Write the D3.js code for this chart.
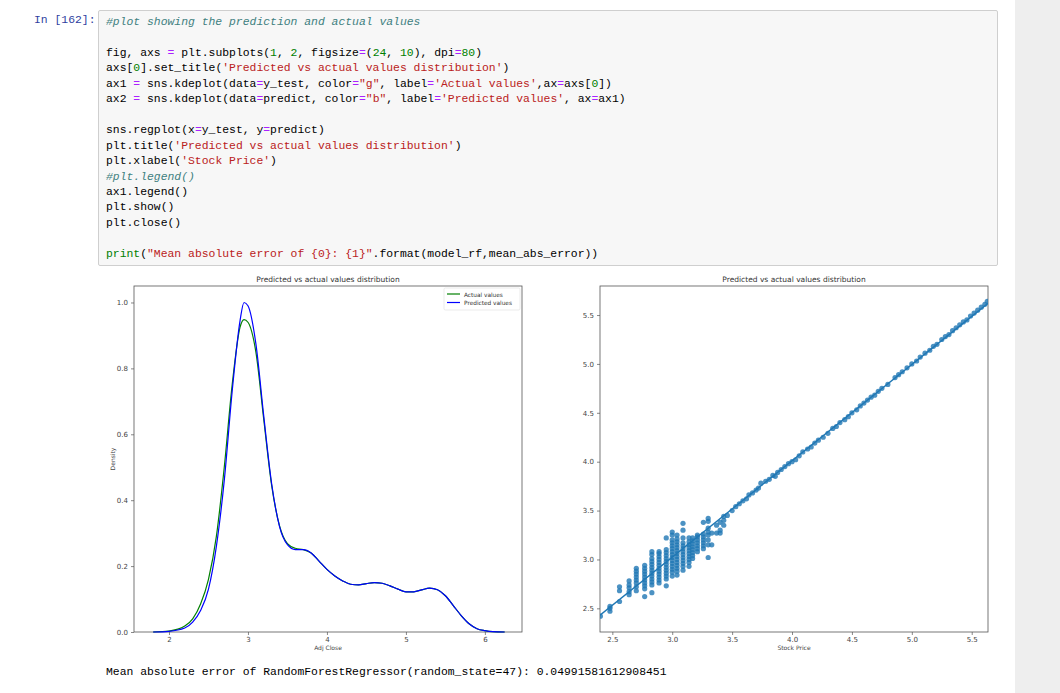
<!DOCTYPE html>
<html>
<head>
<meta charset="utf-8">
<script src="https://cdn.jsdelivr.net/npm/d3@7"></script>
<style>
  body { margin: 0; background: #fff; width: 1060px; height: 693px; overflow: hidden; position: relative; font-family: "DejaVu Sans", sans-serif; }
  #strip { position: absolute; left: 1015px; top: 0; width: 45px; height: 693px; background: #eeeeee; }
  #prompt { position: absolute; left: 34px; top: 14px; font: 11.4px "Liberation Mono", monospace; color: #303F9F; }
  #cell { position: absolute; left: 98px; top: 10px; width: 898px; height: 254px; background: #f7f7f7; border: 1px solid #cfcfcf; border-radius: 2px; }
  pre { margin: 0; font: 11.4px/15.45px "Liberation Mono", monospace; color: #000; }
  #code { position: absolute; left: 7px; top: 4px; }
  .c { color: #408080; font-style: italic; }
  .o { color: #AA22FF; }
  .s { color: #BA2121; }
  .n { color: #008000; }
  #out { position: absolute; left: 106px; top: 665px; }
  svg { position: absolute; left: 0; top: 0; }
</style>
</head>
<body>
<div id="strip"></div>
<div id="prompt">In [162]:</div>
<div id="cell"><pre id="code"><span class="c">#plot showing the prediction and actual values</span>

fig, axs <span class="o">=</span> plt.subplots(<span class="n">1</span>, <span class="n">2</span>, figsize<span class="o">=</span>(<span class="n">24</span>, <span class="n">10</span>), dpi<span class="o">=</span><span class="n">80</span>)
axs[<span class="n">0</span>].set_title(<span class="s">'Predicted vs actual values distribution'</span>)
ax1 <span class="o">=</span> sns.kdeplot(data<span class="o">=</span>y_test, color<span class="o">=</span><span class="s">"g"</span>, label<span class="o">=</span><span class="s">'Actual values'</span>,ax<span class="o">=</span>axs[<span class="n">0</span>])
ax2 <span class="o">=</span> sns.kdeplot(data<span class="o">=</span>predict, color<span class="o">=</span><span class="s">"b"</span>, label<span class="o">=</span><span class="s">'Predicted values'</span>, ax<span class="o">=</span>ax1)

sns.regplot(x<span class="o">=</span>y_test, y<span class="o">=</span>predict)
plt.title(<span class="s">'Predicted vs actual values distribution'</span>)
plt.xlabel(<span class="s">'Stock Price'</span>)
<span class="c">#plt.legend()</span>
ax1.legend()
plt.show()
plt.close()

<span class="n">print</span>(<span class="s">"Mean absolute error of {0}: {1}"</span>.format(model_rf,mean_abs_error))</pre></div>
<pre id="out">Mean absolute error of RandomForestRegressor(random_state=47): 0.04991581612908451</pre>
<svg id="chart" width="1060" height="693"></svg>
<script>
// KDE curves (x, density)
const kdeX =      [1.8, 2.0, 2.2, 2.3, 2.4, 2.5, 2.6, 2.7, 2.8, 2.9, 2.95, 3.0, 3.1, 3.2, 3.3, 3.4, 3.5, 3.6, 3.7, 3.8, 3.9, 4.0, 4.1, 4.2, 4.3, 4.4, 4.5, 4.6, 4.7, 4.8, 4.9, 5.0, 5.1, 5.2, 5.3, 5.4, 5.5, 5.6, 5.7, 5.8, 5.9, 6.0, 6.1, 6.25];
const actualKde = [0.0, 0.003, 0.018, 0.04, 0.085, 0.16, 0.29, 0.50, 0.75, 0.925, 0.948, 0.94, 0.85, 0.645, 0.445, 0.322, 0.268, 0.254, 0.25, 0.24, 0.215, 0.19, 0.17, 0.155, 0.145, 0.143, 0.147, 0.15, 0.148, 0.14, 0.13, 0.122, 0.122, 0.128, 0.133, 0.128, 0.11, 0.08, 0.05, 0.025, 0.01, 0.004, 0.001, 0.0];
const predKde =   [0.0, 0.002, 0.012, 0.03, 0.065, 0.13, 0.26, 0.46, 0.73, 0.945, 1.0, 0.99, 0.875, 0.655, 0.45, 0.32, 0.265, 0.25, 0.25, 0.24, 0.215, 0.19, 0.17, 0.155, 0.145, 0.143, 0.147, 0.15, 0.148, 0.14, 0.13, 0.122, 0.122, 0.128, 0.133, 0.128, 0.11, 0.08, 0.05, 0.025, 0.01, 0.004, 0.001, 0.0];

const kdeXTicks = [2, 3, 4, 5, 6];
const kdeYTicks = [0.0, 0.2, 0.4, 0.6, 0.8, 1.0];

// regplot: low-price columns of predictions (x = actual, ys = predicted values)
const scatterCols = [
  [2.40, [2.42]],
  [2.48, [2.47, 2.50, 2.52]],
  [2.56, [2.57, 2.68, 2.72]],
  [2.64, [2.64, 2.67, 2.71, 2.74, 2.78]],
  [2.70, [2.68, 2.72, 2.76, 2.79, 2.82, 2.85, 2.88, 2.91]],
  [2.77, [2.62, 2.70, 2.73, 2.76, 2.79, 2.82, 2.85, 2.88, 2.91, 2.94]],
  [2.83, [2.66, 2.74, 2.77, 2.80, 2.83, 2.86, 2.89, 2.92, 2.95, 2.98, 3.01, 3.05, 3.08]],
  [2.89, [2.76, 2.79, 2.82, 2.85, 2.88, 2.91, 2.94, 2.97, 3.00, 3.03, 3.06, 3.08]],
  [2.95, [2.73, 2.80, 2.83, 2.86, 2.89, 2.92, 2.95, 2.98, 3.01, 3.04, 3.07, 3.10, 3.22]],
  [3.00, [2.83, 2.87, 2.90, 2.93, 2.96, 2.99, 3.02, 3.05, 3.08, 3.11, 3.14, 3.17, 3.20, 3.25, 3.28]],
  [3.04, [2.84, 2.88, 2.91, 2.94, 2.97, 3.00, 3.03, 3.06, 3.09, 3.12, 3.15, 3.18, 3.21, 3.25]],
  [3.09, [2.89, 2.93, 2.96, 2.99, 3.02, 3.05, 3.08, 3.11, 3.14, 3.17, 3.22, 3.30, 3.37]],
  [3.14, [2.93, 2.97, 3.00, 3.03, 3.06, 3.09, 3.12, 3.15, 3.18, 3.22]],
  [3.17, [3.01, 3.04, 3.07, 3.10, 3.13, 3.16, 3.19, 3.22]],
  [3.21, [3.08, 3.11, 3.14, 3.17, 3.20, 3.23, 3.25]],
  [3.26, [3.11, 3.14, 3.17, 3.20, 3.23, 3.26, 3.38]],
  [3.30, [3.02, 3.15, 3.20, 3.25, 3.28, 3.32, 3.39, 3.42]],
  [3.33, [3.15, 3.27]],
  [3.37, [3.27, 3.35]],
  [3.40, [3.27, 3.30, 3.38]],
  [3.43, [3.35, 3.40, 3.44]]
];
// regplot: upper range, predictions hug the diagonal
const diagX = [3.46, 3.50, 3.53, 3.56, 3.59, 3.62, 3.64, 3.67, 3.70, 3.72, 3.74, 3.78, 3.81, 3.84, 3.86, 3.88, 3.91, 3.94, 3.97, 4.00, 4.03, 4.06, 4.09, 4.13, 4.16, 4.19, 4.22, 4.26, 4.30, 4.34, 4.37, 4.40, 4.44, 4.47, 4.50, 4.54, 4.57, 4.60, 4.63, 4.66, 4.69, 4.72, 4.75, 4.80, 4.86, 4.89, 4.92, 4.96, 5.00, 5.04, 5.07, 5.11, 5.15, 5.18, 5.21, 5.25, 5.28, 5.31, 5.34, 5.37, 5.40, 5.43, 5.46, 5.49, 5.52, 5.55, 5.58, 5.61, 5.63];
const diagY = [3.45, 3.50, 3.54, 3.57, 3.60, 3.62, 3.66, 3.68, 3.71, 3.73, 3.78, 3.80, 3.82, 3.86, 3.85, 3.89, 3.92, 3.95, 3.98, 4.00, 4.02, 4.06, 4.10, 4.13, 4.15, 4.19, 4.22, 4.25, 4.29, 4.34, 4.36, 4.40, 4.43, 4.46, 4.50, 4.53, 4.57, 4.60, 4.63, 4.66, 4.68, 4.72, 4.75, 4.79, 4.86, 4.89, 4.92, 4.96, 5.00, 5.03, 5.07, 5.11, 5.14, 5.18, 5.20, 5.25, 5.28, 5.30, 5.34, 5.37, 5.40, 5.43, 5.45, 5.49, 5.52, 5.55, 5.58, 5.61, 5.64];
const regLine = [[2.397, 2.43], [5.636, 5.62]];
const regXTicks = [2.5, 3.0, 3.5, 4.0, 4.5, 5.0, 5.5];
const regYTicks = [2.5, 3.0, 3.5, 4.0, 4.5, 5.0, 5.5];

const svg = d3.select("#chart");
const tickFont = "7px";

function frame(g, x, y, xTicks, yTicks, fmt) {
  const [x0, x1] = x.range(), [y1, y0] = y.range();
  g.append("rect").attr("x", x0).attr("y", y0).attr("width", x1 - x0).attr("height", y1 - y0)
    .attr("fill", "none").attr("stroke", "#555").attr("stroke-width", 0.8);
  const ax = g.append("g").attr("transform", `translate(0,${y1})`)
    .call(d3.axisBottom(x).tickValues(xTicks).tickFormat(fmt.x).tickSize(3).tickPadding(2));
  const ay = g.append("g").attr("transform", `translate(${x0},0)`)
    .call(d3.axisLeft(y).tickValues(yTicks).tickFormat(fmt.y).tickSize(3).tickPadding(3));
  [ax, ay].forEach(a => {
    a.select(".domain").remove();
    a.selectAll("line").attr("stroke", "#555").attr("stroke-width", 0.7);
    a.selectAll("text").attr("fill", "#444").style("font-size", tickFont).style("font-family", "DejaVu Sans");
  });
}

// ---- left: KDE plot
const xK = d3.scaleLinear().domain([1.557, 6.47]).range([134, 522]);
const yK = d3.scaleLinear().domain([0, 1.05]).range([632, 286]);
const gL = svg.append("g");
frame(gL, xK, yK, kdeXTicks, kdeYTicks, { x: d3.format("d"), y: d3.format(".1f") });

const kdeLine = d3.line().x((d, i) => xK(kdeX[i])).y(d => yK(d)).curve(d3.curveMonotoneX);
gL.append("path").datum(actualKde).attr("d", kdeLine).attr("fill", "none").attr("stroke", "#008000").attr("stroke-width", 1.2);
gL.append("path").datum(predKde).attr("d", kdeLine).attr("fill", "none").attr("stroke", "#0000ff").attr("stroke-width", 1.2);

gL.append("text").attr("x", 328).attr("y", 282).attr("text-anchor", "middle")
  .style("font-size", "7.5px").attr("fill", "#333").text("Predicted vs actual values distribution");
gL.append("text").attr("x", 328).attr("y", 650).attr("text-anchor", "middle")
  .style("font-size", "6px").attr("fill", "#444").text("Adj Close");
gL.append("text").attr("transform", "translate(115,459) rotate(-90)").attr("text-anchor", "middle")
  .style("font-size", "6px").attr("fill", "#444").text("Density");

// legend
const lg = gL.append("g").attr("transform", "translate(444,286)");
lg.append("rect").attr("x", 0).attr("y", 2).attr("width", 76).attr("height", 22)
  .attr("fill", "#fff").attr("stroke", "#ddd").attr("stroke-width", 0.6).attr("rx", 1.5);
[["Actual values", "#008000"], ["Predicted values", "#0000ff"]].forEach(([t, c], i) => {
  lg.append("line").attr("x1", 3).attr("x2", 16).attr("y1", 8 + i * 8.5).attr("y2", 8 + i * 8.5)
    .attr("stroke", c).attr("stroke-width", 1.2);
  lg.append("text").attr("x", 20).attr("y", 10.5 + i * 8.5).style("font-size", "5.8px").attr("fill", "#333").text(t);
});

// ---- right: regplot
const xR = d3.scaleLinear().domain([2.397, 5.636]).range([600, 988]);
const yR = d3.scaleLinear().domain([2.258, 5.797]).range([632, 286]);
const gR = svg.append("g");
frame(gR, xR, yR, regXTicks, regYTicks, { x: d3.format(".1f"), y: d3.format(".1f") });

const pts = [];
scatterCols.forEach(([x, ys]) => ys.forEach(y => pts.push([x, y])));
diagX.forEach((x, i) => pts.push([x, diagY[i]]));

gR.append("defs").append("clipPath").attr("id", "clipR").append("rect")
  .attr("x", 600).attr("y", 286).attr("width", 388).attr("height", 346);
const plot = gR.append("g").attr("clip-path", "url(#clipR)");
plot.selectAll("circle").data(pts).join("circle")
  .attr("cx", d => xR(d[0])).attr("cy", d => yR(d[1])).attr("r", 2.6)
  .attr("fill", "#1f77b4").attr("fill-opacity", 0.8);
plot.append("path").datum(regLine).attr("d", d3.line().x(d => xR(d[0])).y(d => yR(d[1])))
  .attr("stroke", "#1f77b4").attr("stroke-width", 1.4).attr("fill", "none");

gR.append("text").attr("x", 794).attr("y", 282).attr("text-anchor", "middle")
  .style("font-size", "7.5px").attr("fill", "#333").text("Predicted vs actual values distribution");
gR.append("text").attr("x", 794).attr("y", 650).attr("text-anchor", "middle")
  .style("font-size", "6px").attr("fill", "#444").text("Stock Price");
</script>
</body>
</html>
